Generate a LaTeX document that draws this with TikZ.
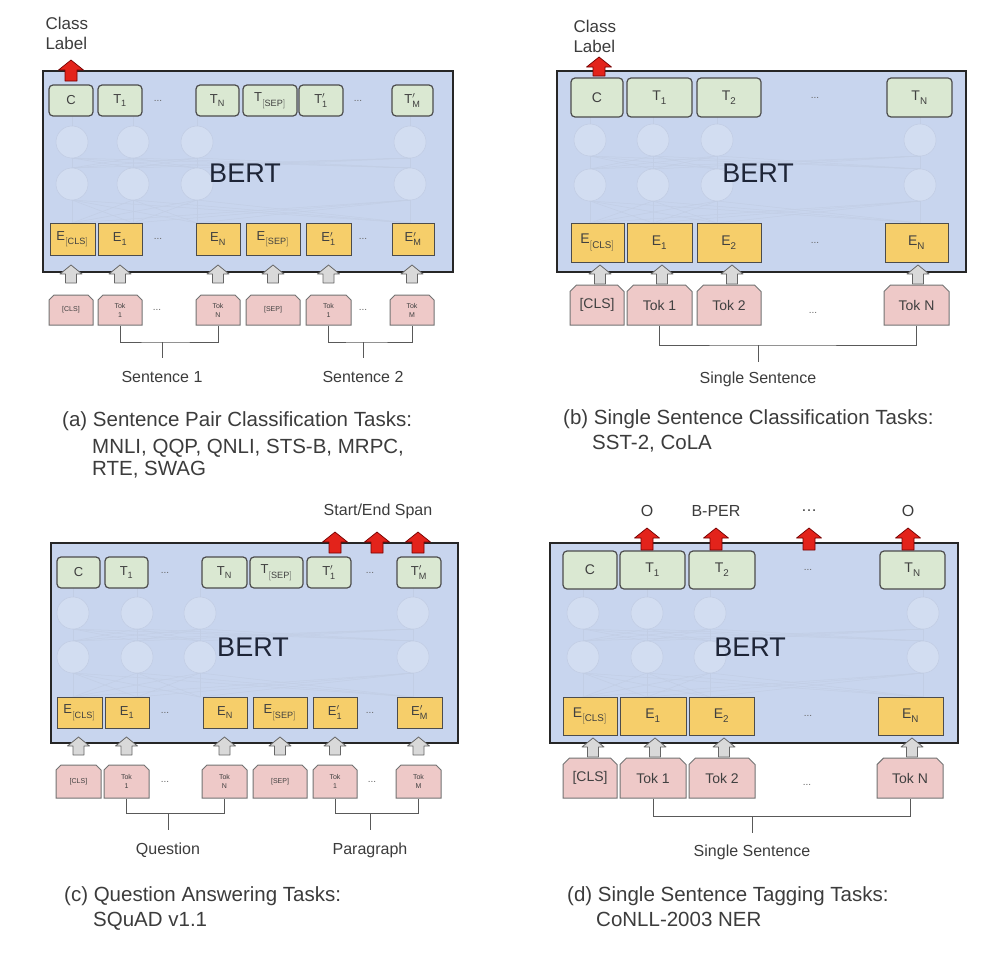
\documentclass[tikz,border=0pt]{standalone}
\usepackage{amsmath}
\usepackage{fontspec}
\setmainfont{Liberation Sans}
\usetikzlibrary{shapes.misc,calc}

\definecolor{bertblue}{HTML}{C8D5EE}
\definecolor{tgreen}{HTML}{DAE8D2}
\definecolor{eyellow}{HTML}{F6CE6A}
\definecolor{tokpink}{HTML}{EEC9C8}
\definecolor{arrred}{HTML}{E3231B}
\definecolor{arrgray}{HTML}{D9D9D9}
\definecolor{txtgray}{HTML}{3C3C3C}
\definecolor{bertnavy}{HTML}{1E2537}

\newcommand{\tk}[3][]{$\mathrm{#2}_{\mathrm{#3}}^{#1}$}
\newcommand{\fsz}[1]{\fontsize{#1}{#1}\selectfont}

\tikzset{
  bertbox/.style={draw=black!85, line width=1.6pt, fill=bertblue},
  bertlbl/.style={font=\fsz{27}, text=bertnavy},
  tbox/.style={draw=black!70, line width=1.2pt, rounded corners=4pt, fill=tgreen, inner sep=0pt, text=black!75},
  ebox/.style={draw=black!70, line width=1pt, fill=eyellow, inner sep=0pt, text=black!75},
  tokbox/.style={chamfered rectangle, chamfered rectangle corners={north west,north east},
    chamfered rectangle angle=45, chamfered rectangle xsep=3pt,
    draw=black!55, line width=1pt, fill=tokpink, inner sep=0pt, text=black!75},
  smalltok/.style={tokbox, chamfered rectangle xsep=1.5pt, align=center, font=\fontsize{7}{9}\selectfont},
  redblk/.style={draw=red!45!black, line width=0.7pt, fill=arrred, line join=round},
  grayblk/.style={draw=black!60, line width=0.8pt, fill=arrgray, line join=round},
  ellip/.style={text=black!60, font=\fsz{10}},
  lbl/.style={font=\fsz{16}, text=txtgray},
  capt/.style={font=\fsz{20.5}, text=txtgray, anchor=base west, inner sep=0pt},
  brk/.style={draw=black!65, line width=1pt},
  netline/.style={draw=bertblue!92!gray, line width=0.5pt},
  netcirc/.style={draw=bertblue!90!gray, fill=bertblue!82!white, line width=0.5pt},
}

% block arrow pointing up: style, x, tip y, base y, shaft half, head half, head length
\newcommand{\upblock}[7]{%
  \draw[#1] (#2-#5,#4) -- (#2-#5,#3+#7) -- (#2-#6,#3+#7) -- (#2,#3)
    -- (#2+#6,#3+#7) -- (#2+#5,#3+#7) -- (#2+#5,#4) -- cycle;}
\newcommand{\redup}[3]{\upblock{redblk}{#1}{#2}{#3}{6}{12.5}{10}}
\newcommand{\grayup}[3]{\upblock{grayblk}{#1}{#2}{#3}{5.5}{11}{9}}

% faint transformer net behind the BERT label
\newcommand{\bertnet}[5]{%
  \foreach \cx in {#1} {
    \draw[netline] (\cx,#4) -- (\cx,#5);
    \foreach \dx in {#1} {
      \draw[netline] (\cx,#2+16) -- (\dx,#3-16);
      \draw[netline] (\cx,#3+16) -- (\dx,#5);
    }
  }
  \foreach \cx in {#1} {
    \draw[netcirc] (\cx,#2) circle (16pt);
    \draw[netcirc] (\cx,#3) circle (16pt);
  }
}

\begin{document}
\begin{tikzpicture}[x=1pt,y=-1pt]
\fill[white] (0,0) rectangle (1000,966);
\useasboundingbox (0,0) rectangle (1000,966);

% ---- (a) sentence pair classification
\node[bertbox, minimum width=410, minimum height=201] (a-box) at (248,171.5) {};
\bertnet{72,133,197,410}{142}{184}{116}{223}
\node[bertlbl] (a-bert) at (245,173) {BERT};
\foreach \n/\x/\w/\lbl in {1/71/44/C, 2/120/44/{\tk{T}{1}}, 3/217.5/43/{\tk{T}{N}}, 4/270/54/{\tk{T}{[SEP]}},
    5/321/44/{\tk[\prime]{T}{1}}, 6/412.5/41/{\tk[\prime]{T}{M}}}
  \node[tbox, minimum width=\w, minimum height=31, font=\fsz{13}] (a-t\n) at (\x,100.5) {\lbl};
\foreach \n/\x/\w/\lbl in {1/72.5/45/{\tk{E}{[CLS]}}, 2/120/44/{\tk{E}{1}}, 3/218/44/{\tk{E}{N}}, 4/273/54/{\tk{E}{[SEP]}},
    5/328.5/45/{\tk[\prime]{E}{1}}, 6/413/42/{\tk[\prime]{E}{M}}}
  \node[ebox, minimum width=\w, minimum height=32, font=\fsz{13}] (a-e\n) at (\x,239) {\lbl};
\foreach \n/\x/\w/\lbl in {1/71/44/{[CLS]}, 2/120/44/{Tok\\1}, 3/218/44/{Tok\\N}, 4/273/54/{[SEP]},
    5/328.5/45/{Tok\\1}, 6/412/44/{Tok\\M}}
  \node[smalltok, minimum width=\w, minimum height=30] (a-k\n) at (\x,310) {\lbl};
\foreach \n/\x/\y in {td1/158/100.5, td2/358/100.5, ed1/158/239, ed2/363/239, kd1/157/310, kd2/363/310}
  \node[ellip] (a-\n) at (\x,\y) {...};
\foreach \x in {71,120,218,273,328.5,412}
  \grayup{\x}{265}{283};
\redup{71}{60}{81}
\node[lbl, align=left, anchor=west, font=\fontsize{17}{20}\selectfont] (a-cls) at (42,33) {Class\\Label};
\coordinate (a-j1) at (162,342);
\coordinate (a-j2) at (363,342);
\draw[brk] (a-k2.south) |- (a-j1) -| (a-k3.south);
\draw[brk] (a-k5.south) |- (a-j2) -| (a-k6.south);
\draw[brk] (a-j1) -- ++(0,16);
\draw[brk] (a-j2) -- ++(0,16);
\node[lbl] (a-s1) at (162,377) {Sentence 1};
\node[lbl] (a-s2) at (363,377) {Sentence 2};
\node[capt] (a-cap1) at (62,426) {(a) Sentence Pair Classification Tasks:};
\node[capt] (a-cap2) at (92,453) {MNLI, QQP, QNLI, STS-B, MRPC,};
\node[capt] (a-cap3) at (92,475) {RTE, SWAG};

% ---- (b) single sentence classification
\node[bertbox, minimum width=409, minimum height=201] (b-box) at (761.5,171.5) {};
\bertnet{590,653,717,920}{140}{185}{117}{223}
\node[bertlbl] (b-bert) at (758,173) {BERT};
\foreach \n/\x/\w/\lbl in {1/597/52/C, 2/659.5/65/{\tk{T}{1}}, 3/729/64/{\tk{T}{2}}, 4/919.5/65/{\tk{T}{N}}}
  \node[tbox, minimum width=\w, minimum height=39, font=\fsz{14}] (b-t\n) at (\x,97.5) {\lbl};
\foreach \n/\x/\w/\lbl in {1/597.5/53/{\tk{E}{[CLS]}}, 2/659.5/65/{\tk{E}{1}}, 3/729/64/{\tk{E}{2}}, 4/916.5/63/{\tk{E}{N}}}
  \node[ebox, minimum width=\w, minimum height=39, font=\fsz{14}] (b-e\n) at (\x,242.5) {\lbl};
\foreach \n/\x/\w/\lbl in {1/597/54/{[CLS]}, 2/659.5/65/{Tok 1}, 3/729/64/{Tok 2}, 4/916.5/65/{Tok N}}
  \node[tokbox, minimum width=\w, minimum height=40, font=\fsz{14}] (b-k\n) at (\x,305) {\lbl};
\foreach \n/\x/\y in {td1/815/97.5, ed1/815/242.5, kd1/813/313}
  \node[ellip] (b-\n) at (\x,\y) {...};
\foreach \x in {600,662,732,918}
  \grayup{\x}{265}{284};
\redup{599}{57}{76}
\node[lbl, align=left, anchor=west, font=\fontsize{17}{20}\selectfont] (b-cls) at (570,36) {Class\\Label};
\coordinate (b-j1) at (758,345);
\draw[brk] (b-k2.south) |- (b-j1) -| (b-k4.south);
\draw[brk] (b-j1) -- ++(0,17);
\node[lbl] (b-s1) at (758,379) {Single Sentence};
\node[capt] (b-cap1) at (563,424) {(b) Single Sentence Classification Tasks:};
\node[capt] (b-cap2) at (592,449) {SST-2, CoLA};

% ---- (c) question answering
\node[bertbox, minimum width=407, minimum height=200] (c-box) at (254.5,643) {};
\bertnet{73,137,200,413}{613}{657}{588}{697}
\node[bertlbl] (c-bert) at (253,647) {BERT};
\foreach \n/\x/\w/\lbl in {1/78.5/43/C, 2/126.5/43/{\tk{T}{1}}, 3/224.5/45/{\tk{T}{N}}, 4/276.5/53/{\tk{T}{[SEP]}},
    5/329/44/{\tk[\prime]{T}{1}}, 6/419/44/{\tk[\prime]{T}{M}}}
  \node[tbox, minimum width=\w, minimum height=31, font=\fsz{13}] (c-t\n) at (\x,572.5) {\lbl};
\foreach \n/\x/\w/\lbl in {1/79.5/45/{\tk{E}{[CLS]}}, 2/127/44/{\tk{E}{1}}, 3/225/44/{\tk{E}{N}}, 4/280/54/{\tk{E}{[SEP]}},
    5/335/44/{\tk[\prime]{E}{1}}, 6/419.5/45/{\tk[\prime]{E}{M}}}
  \node[ebox, minimum width=\w, minimum height=31, font=\fsz{13}] (c-e\n) at (\x,712.5) {\lbl};
\foreach \n/\x/\w/\lbl in {1/78.5/45/{[CLS]}, 2/126.5/45/{Tok\\1}, 3/224.5/45/{Tok\\N}, 4/280/54/{[SEP]},
    5/335/44/{Tok\\1}, 6/418.5/45/{Tok\\M}}
  \node[smalltok, minimum width=\w, minimum height=33] (c-k\n) at (\x,781.5) {\lbl};
\foreach \n/\x/\y in {td1/165/572.5, td2/370/572.5, ed1/165/712.5, ed2/370/712.5, kd1/165/781.5, kd2/372/781.5}
  \node[ellip] (c-\n) at (\x,\y) {...};
\foreach \x in {78.5,126.5,224.5,280,335,418.5}
  \grayup{\x}{737}{755};
\foreach \x in {335,377,418}
  \redup{\x}{532}{553};
\node[lbl] (c-span) at (378,511) {Start/End Span};
\coordinate (c-j1) at (168,813);
\coordinate (c-j2) at (370,813);
\draw[brk] (c-k2.south) |- (c-j1) -| (c-k3.south);
\draw[brk] (c-k5.south) |- (c-j2) -| (c-k6.south);
\draw[brk] (c-j1) -- ++(0,17);
\draw[brk] (c-j2) -- ++(0,17);
\node[lbl] (c-s1) at (168,850) {Question};
\node[lbl] (c-s2) at (370,850) {Paragraph};
\node[capt] (c-cap1) at (64,901) {(c) Question Answering Tasks:};
\node[capt] (c-cap2) at (93,926) {SQuAD v1.1};

% ---- (d) single sentence tagging
\node[bertbox, minimum width=408, minimum height=200] (d-box) at (754,643) {};
\bertnet{583,647,710,923}{613}{657}{589}{697}
\node[bertlbl] (d-bert) at (750,647) {BERT};
\foreach \n/\x/\w/\lbl in {1/590/54/C, 2/652.5/65/{\tk{T}{1}}, 3/722/66/{\tk{T}{2}}, 4/912.5/65/{\tk{T}{N}}}
  \node[tbox, minimum width=\w, minimum height=38, font=\fsz{14}] (d-t\n) at (\x,570) {\lbl};
\foreach \n/\x/\w/\lbl in {1/590/54/{\tk{E}{[CLS]}}, 2/653/66/{\tk{E}{1}}, 3/721.5/65/{\tk{E}{2}}, 4/910.5/65/{\tk{E}{N}}}
  \node[ebox, minimum width=\w, minimum height=38, font=\fsz{14}] (d-e\n) at (\x,716) {\lbl};
\foreach \n/\x/\w/\lbl in {1/590/54/{[CLS]}, 2/653/66/{Tok 1}, 3/722/66/{Tok 2}, 4/910/66/{Tok N}}
  \node[tokbox, minimum width=\w, minimum height=40, font=\fsz{14}] (d-k\n) at (\x,778) {\lbl};
\foreach \n/\x/\y in {td1/808/570, ed1/808/716, kd1/807/785}
  \node[ellip] (d-\n) at (\x,\y) {...};
\foreach \x in {593,655,724,912}
  \grayup{\x}{738}{757};
\foreach \n/\x/\lbl in {1/647/O, 2/716/B-PER, 3/809/{\ldots}, 4/908/O}{
  \redup{\x}{528}{550}
  \node[lbl] (d-tag\n) at (\x,511) {\lbl};
}
\coordinate (d-j1) at (752,816);
\draw[brk] (d-k2.south) |- (d-j1) -| (d-k4.south);
\draw[brk] (d-j1) -- ++(0,17);
\node[lbl] (d-s1) at (752,852) {Single Sentence};
\node[capt] (d-cap1) at (567,901) {(d) Single Sentence Tagging Tasks:};
\node[capt] (d-cap2) at (596,926) {CoNLL-2003 NER};
\end{tikzpicture}
\end{document}
